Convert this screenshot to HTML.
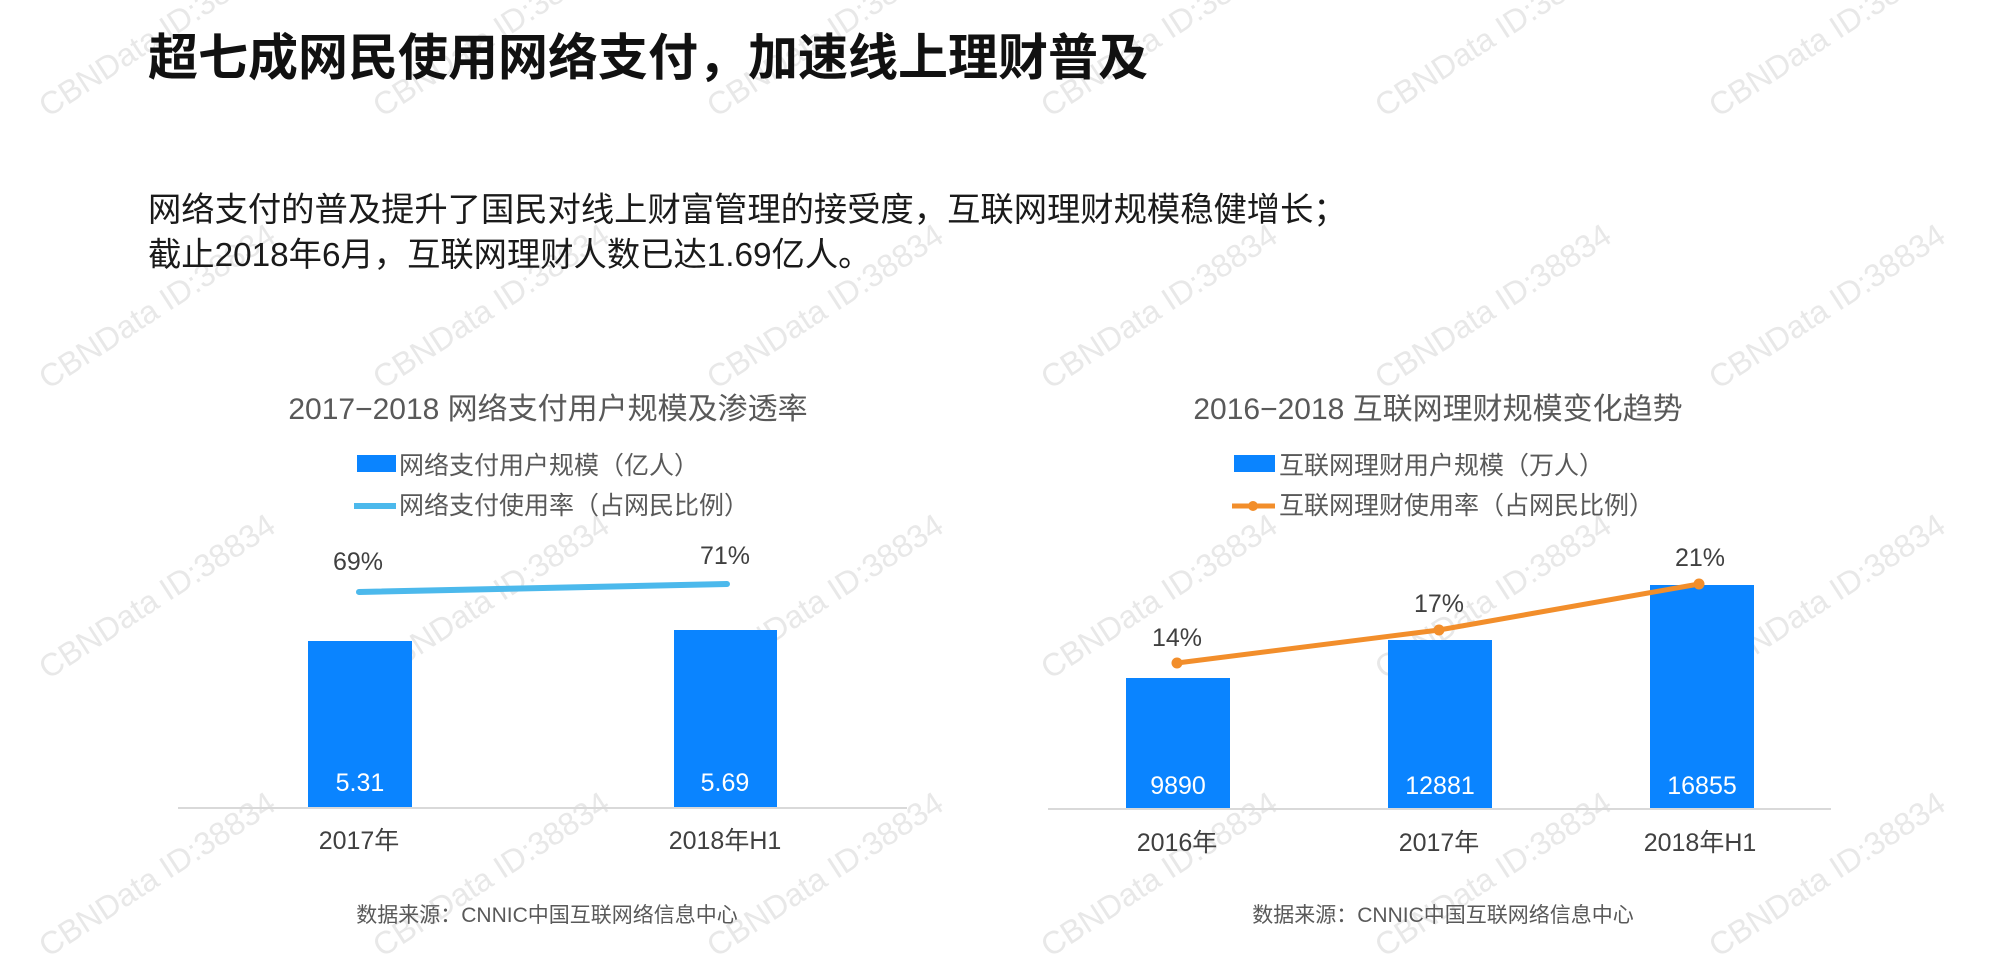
<!DOCTYPE html>
<html><head><meta charset="utf-8"><style>
html,body{margin:0;padding:0;background:#fff;}
svg{display:block;}
text{font-family:"Liberation Sans","Noto Sans CJK SC",sans-serif;}
</style></head><body>
<svg width="1990" height="965" viewBox="0 0 1990 965" xmlns="http://www.w3.org/2000/svg">
<g fill="#e8e8e8" font-size="32">
<g id="wm">
<text transform="translate(48,118) rotate(-33)">CBNData ID:38834</text>
<text transform="translate(382,118) rotate(-33)">CBNData ID:38834</text>
<text transform="translate(716,118) rotate(-33)">CBNData ID:38834</text>
<text transform="translate(1050,118) rotate(-33)">CBNData ID:38834</text>
<text transform="translate(1384,118) rotate(-33)">CBNData ID:38834</text>
<text transform="translate(1718,118) rotate(-33)">CBNData ID:38834</text>
</g>
<use href="#wm" y="272"/>
<use href="#wm" y="562"/>
<use href="#wm" y="840"/>
</g>
<text x="148" y="75" font-size="50" font-weight="bold" fill="#111">超七成网民使用网络支付，加速线上理财普及</text>
<text x="148" y="221" font-size="33.3" fill="#1a1a1a">网络支付的普及提升了国民对线上财富管理的接受度，互联网理财规模稳健增长；</text>
<text x="148" y="266" font-size="33.3" fill="#1a1a1a">截止2018年6月，互联网理财人数已达1.69亿人。</text>

<!-- chart 1 -->
<text x="548" y="419" font-size="30" fill="#595959" text-anchor="middle">2017−2018 网络支付用户规模及渗透率</text>
<rect x="357" y="455" width="39" height="17" fill="#0a84ff"/>
<text x="399" y="474" font-size="25" fill="#595959">网络支付用户规模（亿人）</text>
<line x1="354" y1="506" x2="396" y2="506" stroke="#4cb9ec" stroke-width="6"/>
<text x="399" y="514" font-size="25" fill="#595959">网络支付使用率（占网民比例）</text>
<rect x="308" y="641" width="104" height="166" fill="#0a84ff"/>
<rect x="674" y="630" width="103" height="177" fill="#0a84ff"/>
<line x1="178" y1="808" x2="907" y2="808" stroke="#d9d9d9" stroke-width="2"/>
<line x1="359" y1="592" x2="727" y2="584" stroke="#4cb9ec" stroke-width="6" stroke-linecap="round"/>
<text x="358" y="570" font-size="25" fill="#404040" text-anchor="middle">69%</text>
<text x="725" y="564" font-size="25" fill="#404040" text-anchor="middle">71%</text>
<text x="360" y="791" font-size="25" fill="#fff" text-anchor="middle">5.31</text>
<text x="725" y="791" font-size="25" fill="#fff" text-anchor="middle">5.69</text>
<text x="359" y="849" font-size="25" fill="#404040" text-anchor="middle">2017年</text>
<text x="725" y="849" font-size="25" fill="#404040" text-anchor="middle">2018年H1</text>
<text x="547" y="922" font-size="21" fill="#595959" text-anchor="middle">数据来源：CNNIC中国互联网络信息中心</text>

<!-- chart 2 -->
<text x="1438" y="419" font-size="30" fill="#595959" text-anchor="middle">2016−2018 互联网理财规模变化趋势</text>
<rect x="1234" y="455" width="41" height="17" fill="#0a84ff"/>
<text x="1279" y="474" font-size="25" fill="#595959">互联网理财用户规模（万人）</text>
<line x1="1232" y1="506" x2="1275" y2="506" stroke="#f28e2b" stroke-width="5"/>
<circle cx="1253" cy="506" r="5" fill="#f28e2b"/>
<text x="1279" y="514" font-size="25" fill="#595959">互联网理财使用率（占网民比例）</text>
<rect x="1126" y="678" width="104" height="131" fill="#0a84ff"/>
<rect x="1388" y="640" width="104" height="169" fill="#0a84ff"/>
<rect x="1650" y="585" width="104" height="224" fill="#0a84ff"/>
<line x1="1048" y1="809" x2="1831" y2="809" stroke="#d9d9d9" stroke-width="2"/>
<polyline points="1177,663 1439,630 1699,584" fill="none" stroke="#f28e2b" stroke-width="5" stroke-linecap="round"/>
<circle cx="1177" cy="663" r="5.5" fill="#f28e2b"/>
<circle cx="1439" cy="630" r="5.5" fill="#f28e2b"/>
<circle cx="1699" cy="584" r="5.5" fill="#f28e2b"/>
<text x="1177" y="646" font-size="25" fill="#404040" text-anchor="middle">14%</text>
<text x="1439" y="612" font-size="25" fill="#404040" text-anchor="middle">17%</text>
<text x="1700" y="566" font-size="25" fill="#404040" text-anchor="middle">21%</text>
<text x="1178" y="794" font-size="25" fill="#fff" text-anchor="middle">9890</text>
<text x="1440" y="794" font-size="25" fill="#fff" text-anchor="middle">12881</text>
<text x="1702" y="794" font-size="25" fill="#fff" text-anchor="middle">16855</text>
<text x="1177" y="851" font-size="25" fill="#404040" text-anchor="middle">2016年</text>
<text x="1439" y="851" font-size="25" fill="#404040" text-anchor="middle">2017年</text>
<text x="1700" y="851" font-size="25" fill="#404040" text-anchor="middle">2018年H1</text>
<text x="1443" y="922" font-size="21" fill="#595959" text-anchor="middle">数据来源：CNNIC中国互联网络信息中心</text>
</svg>
</body></html>
